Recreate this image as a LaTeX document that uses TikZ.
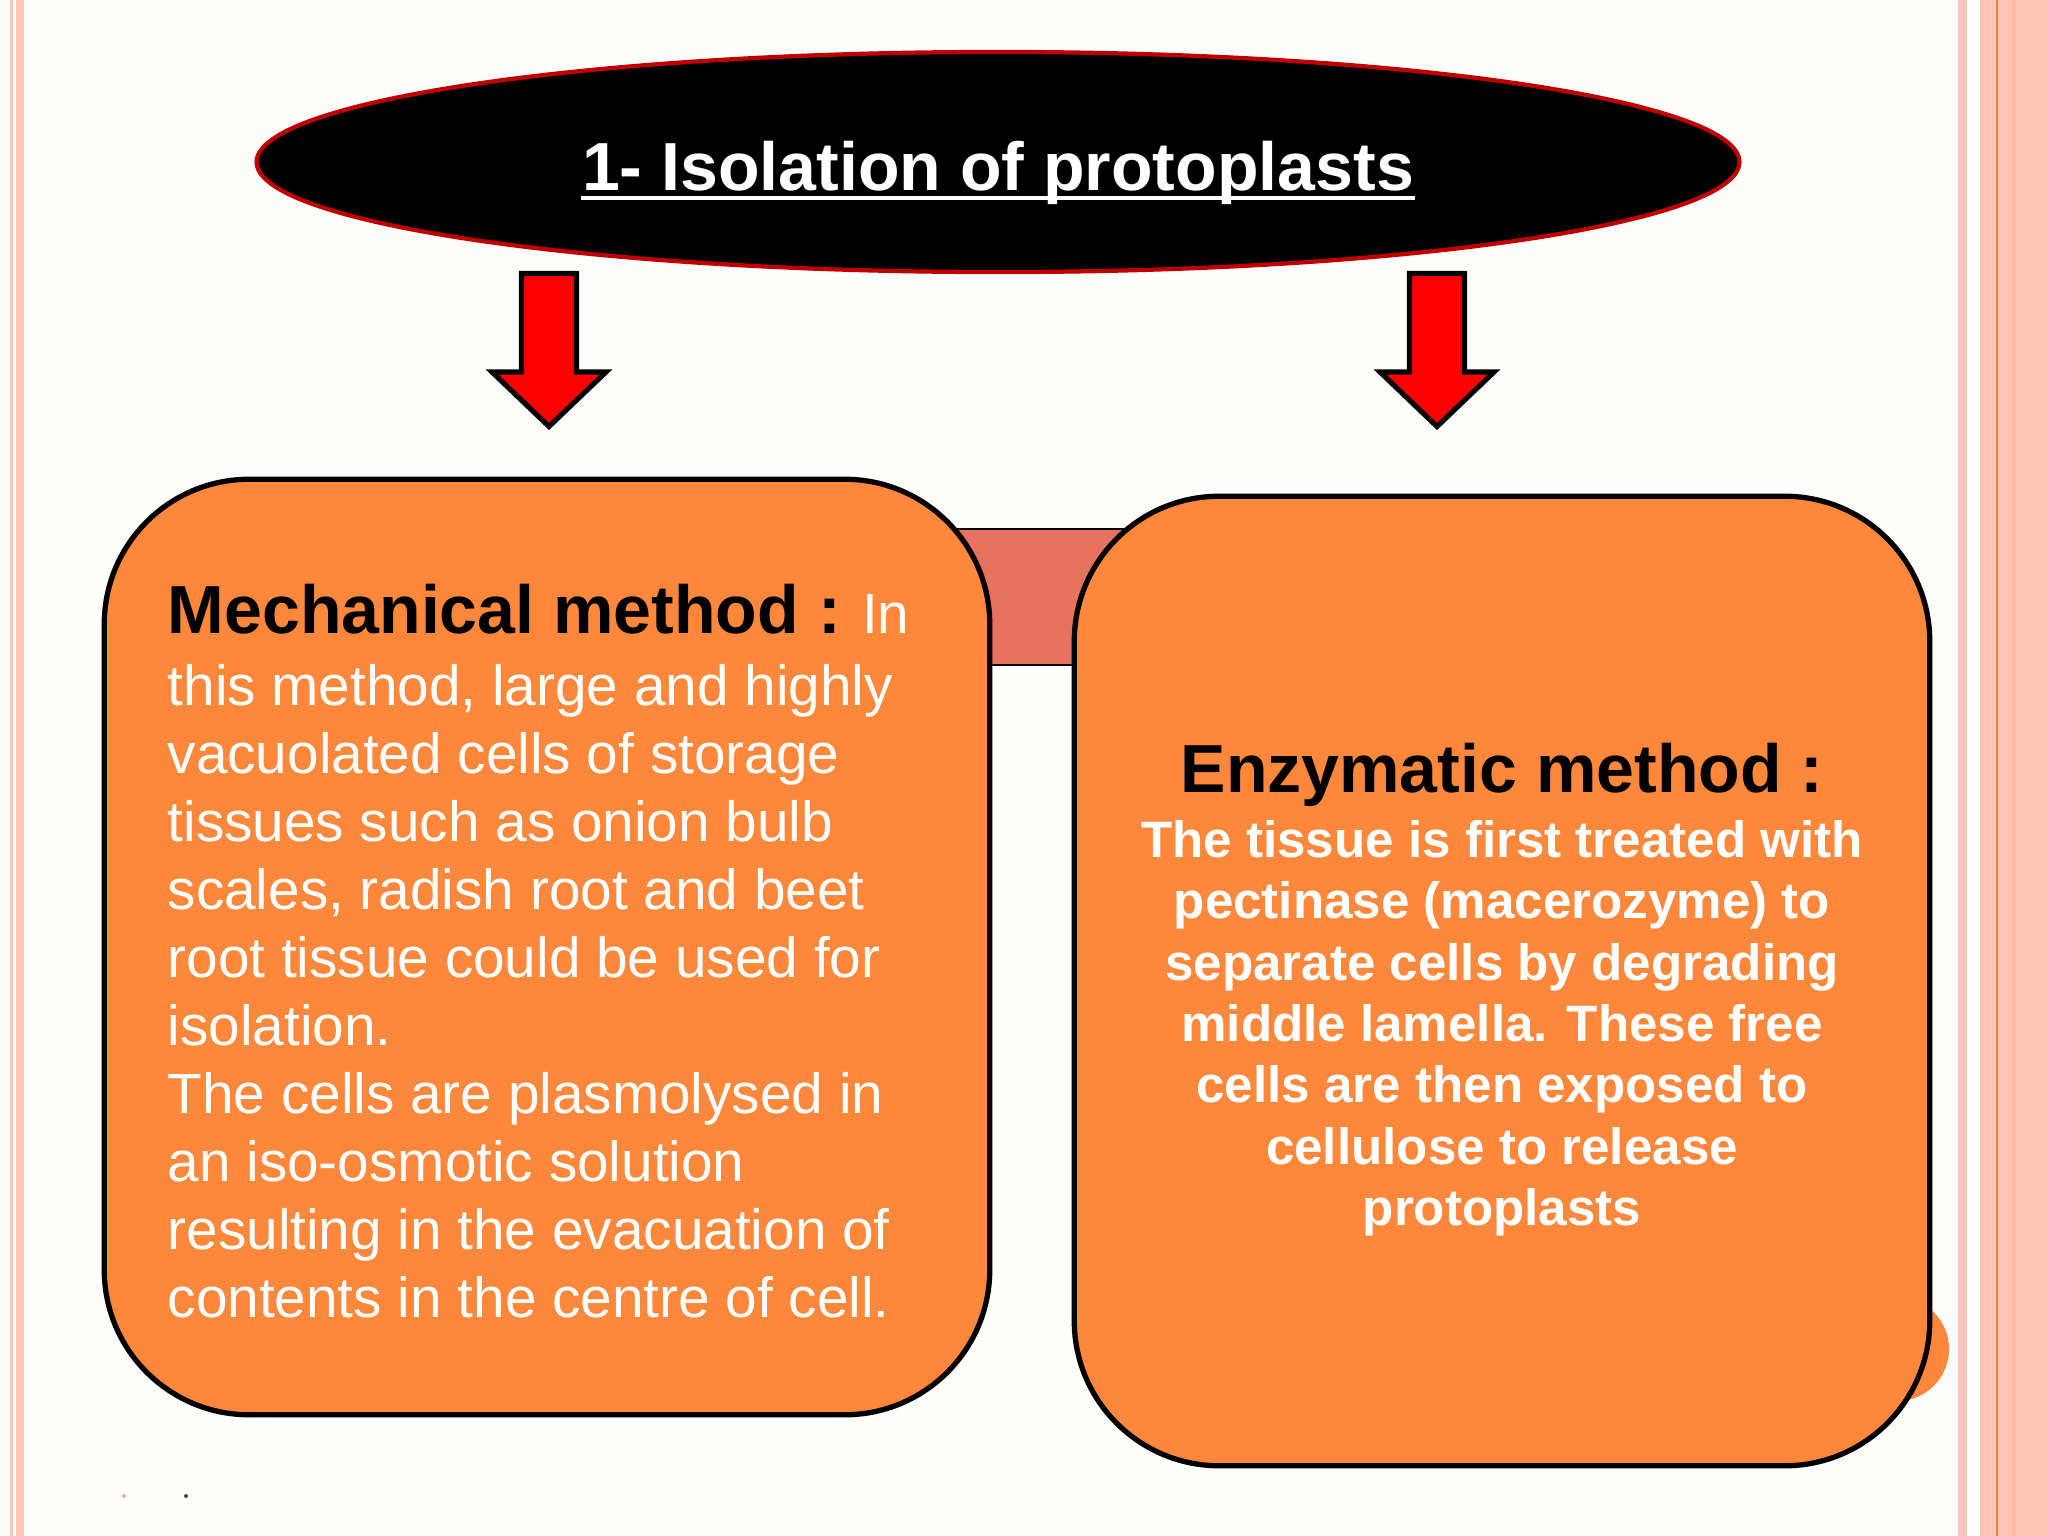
\documentclass[tikz,border=0pt]{standalone}
\usepackage{fontspec}
\setmainfont{Liberation Sans}
\usetikzlibrary{shapes.geometric}
\definecolor{pagewhite}{RGB}{253,254,252}
\definecolor{boxorange}{RGB}{253,135,58}
\definecolor{barred}{RGB}{232,114,96}
\definecolor{ringred}{RGB}{192,0,0}
\definecolor{stripepink}{RGB}{247,198,188}
\definecolor{stripesalmon}{RGB}{253,198,180}
\definecolor{stripedeep}{RGB}{252,188,164}
\definecolor{stripeline}{RGB}{240,128,72}
\begin{document}
\begin{tikzpicture}[x=0.01cm, y=-0.01cm,
  methodbox/.style={rectangle, draw=black, line width=1.5pt, fill=boxorange, rounded corners=1.45cm},
  downarrow/.style={draw=black, line width=1.45pt, fill=red, line join=miter},
  headtxt/.style={inner sep=0pt, font=\fontsize{19.35}{23}\selectfont\bfseries},
  bodytxt/.style={inner sep=0pt, text=white, font=\fontsize{16.13}{19}\selectfont},
  steptxt/.style={inner sep=0pt, text=white, font=\fontsize{14.54}{17}\selectfont\bfseries}]
\useasboundingbox (0,0) rectangle (2048,1536);
\fill[pagewhite] (0,0) rectangle (2048,1536);

% page stripes
\fill[stripepink] (10,0) rectangle (13,1536);
\fill[stripesalmon] (16,0) rectangle (24,1536);
\fill[stripepink] (1958,0) rectangle (1967,1536);
\fill[stripesalmon] (1980,0) rectangle (2048,1536);
\fill[stripedeep] (2012,0) rectangle (2016,1536);
\fill[stripeline] (1996,0) rectangle (1998,1536);
\fill[stripeline!60] (124,1496) circle[radius=0.02cm];
\fill[black!70] (186,1496) circle[radius=0.02cm];

% title
\node[ellipse, draw=ringred, line width=1.2pt, fill=black, minimum width=14.82cm, minimum height=2.2cm, inner sep=0pt] (banner) at (998,162) {};
\node[headtxt, text=white, anchor=base] (title) at (998,190) {1- Isolation of protoplasts};
\draw[white, line width=1.3pt] ([yshift=-0.08cm]title.base west) -- ([yshift=-0.08cm]title.base east);

% arrows
\foreach \cx in {549,1437}
  \draw[downarrow, shift={(\cx,0)}] (-27.5,273.5) -- (27.5,273.5) -- (27.5,372) -- (57,372)
    -- (0,426.5) -- (-57,372) -- (-27.5,372) -- cycle;

% boxes
\draw[fill=barred, line width=0.4pt] (900,529) rectangle (1160,665);
\fill[boxorange] (1897,1349) circle[radius=0.52cm];
\node[methodbox, minimum width=8.85cm, minimum height=9.35cm] (mech) at (547,947) {};
\node[methodbox, minimum width=8.55cm, minimum height=9.69cm] (enz) at (1502,981) {};

% mechanical method
\node[headtxt, anchor=base west] (mhead) at (167,633) {Mechanical method :};
\node[bodytxt, anchor=base west, xshift=0.2cm] (min) at (mhead.base east) {In};
\foreach \yy/\txt in {705/{this method, large and highly}, 773/{vacuolated cells of storage},
    841/{tissues such as onion bulb}, 909/{scales, radish root and beet},
    977/{root tissue could be used for}, 1045/{isolation.},
    1113/{The cells are plasmolysed in}, 1181/{an iso-osmotic solution},
    1249/{resulting in the evacuation of}, 1317/{contents in the centre of cell.}}
  \node[bodytxt, anchor=base west] (mline\yy) at (167,\yy) {\txt};

% enzymatic method
\node[headtxt, anchor=base] (ehead) at (1502,792) {Enzymatic method :};
\foreach \yy/\txt in {857/{The tissue is first treated with}, 918/{pectinase (macerozyme) to},
    980/{separate cells by degrading}, 1041/{middle lamella. These free},
    1102/{cells are then exposed to}, 1164/{cellulose to release}, 1225/{protoplasts}}
  \node[steptxt, anchor=base] (eline\yy) at (1502,\yy) {\txt};
\end{tikzpicture}
\end{document}
